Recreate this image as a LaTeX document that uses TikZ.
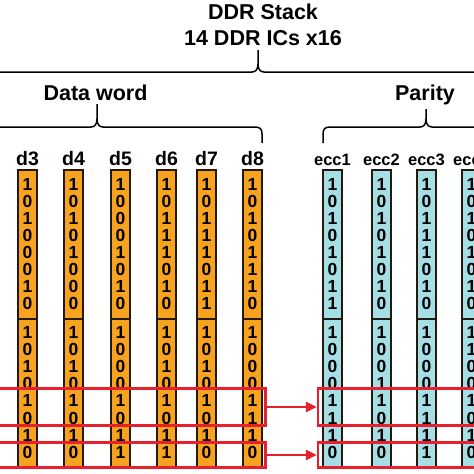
\documentclass[tikz,border=0pt]{standalone}
\usepackage{fontspec}
\setmainfont{Liberation Sans}
\usetikzlibrary{arrows.meta}
\definecolor{dataorange}{RGB}{248,163,31}
\definecolor{eccblue}{RGB}{165,222,228}
\definecolor{hlred}{RGB}{232,32,45}
\definecolor{boxedge}{RGB}{35,25,15}
\tikzset{
  heading/.style={font=\fontsize{21.5}{25}\selectfont\bfseries, anchor=base, inner sep=0pt},
  datalabel/.style={font=\fontsize{19.5}{22}\selectfont\bfseries, anchor=base, inner sep=0pt},
  ecclabel/.style={font=\fontsize{16.5}{20}\selectfont\bfseries, anchor=base, inner sep=0pt},
  bitbox/.style={draw=boxedge, line width=1.4pt, minimum width=19pt, inner sep=0pt},
  bittext/.style={font=\fontsize{17.5}{18}\selectfont\bfseries, inner sep=0pt},
  brace/.style={draw=black, line width=1.5pt},
  hlbox/.style={draw=hlred, line width=2.2pt, inner sep=0pt},
  hlarrow/.style={draw=hlred, line width=2.2pt, -{Triangle[length=11pt,width=10pt]}}
}
\begin{document}
\begin{tikzpicture}[x=1pt,y=-1pt]
\useasboundingbox (0,0) rectangle (474,474);
\clip (0,0) rectangle (474,474);
% headings
\node[heading] (stack) at (263,19.5) {DDR Stack};
\node[heading] (ics) at (263,45) {14 DDR ICs x16};
\node[heading] (dataword) at (95.5,100) {Data word};
\node[heading] (parity) at (425,100) {Parity};
% braces
\draw[brace] (-5,72) -- (252,72) .. controls (256,72) and (258,69) .. (258,64) -- (258,50);
\draw[brace] (258,64) .. controls (258,69) and (260,72) .. (264,72) -- (480,72);
\draw[brace] (-5,127) -- (91,127) .. controls (95,127) and (97,124) .. (97,119) -- (97,104);
\draw[brace] (97,119) .. controls (97,124) and (99,127) .. (103,127) -- (255,127)
  .. controls (260,127) and (262,129) .. (262,134) -- (262,143);
\draw[brace] (323,143) -- (323,134) .. controls (323,129) and (325,127) .. (330,127) -- (420,127)
  .. controls (424,127) and (426,124) .. (426,119) -- (426,109);
\draw[brace] (426,119) .. controls (426,124) and (428,127) .. (432,127) -- (480,127);
% data columns
\foreach \nm/\x/\tb/\bb in {
  d3/18/{1,0,1,0,0,0,1,0}/{1,0,1,0,1,0,1,0},
  d4/64/{1,0,1,0,1,0,0,0}/{1,0,1,0,1,0,1,0},
  d5/111/{1,0,0,0,1,0,1,0}/{1,0,0,0,1,0,1,1},
  d6/157/{1,0,1,1,1,0,1,0}/{1,0,1,0,1,0,1,1},
  d7/197/{1,0,1,1,1,0,1,1}/{1,0,1,0,1,0,1,0},
  d8/243/{1,0,1,0,1,1,1,0}/{1,0,0,0,1,1,1,0}}{
  \node[datalabel] (\nm-lab) at (\x+9.5,165) {\nm};
  \node[bitbox, fill=dataorange, minimum height=149pt] (\nm-top) at (\x+9.5,244.5) {};
  \node[bitbox, fill=dataorange, minimum height=148pt] (\nm-bot) at (\x+9.5,393) {};
  \foreach \b [count=\i] in \tb {
    \node[bittext] (\nm-t\i) at (\x+9.5,184+17.1*\i-17.1) {\b};
  }
  \foreach \b [count=\i] in \bb {
    \node[bittext] (\nm-b\i) at (\x+9.5,332.5+17.1*\i-17.1) {\b};
  }
}
% ecc columns
\foreach \nm/\x/\tb/\bb in {
  ecc1/323/{1,0,1,0,1,0,1,1}/{1,0,0,0,1,1,1,0},
  ecc2/372/{1,0,1,0,1,0,1,0}/{1,0,0,1,1,0,1,0},
  ecc3/417/{1,0,1,1,1,0,1,0}/{1,0,0,0,1,1,1,1},
  ecc4/462/{1,0,1,0,1,0,1,0}/{1,1,0,0,1,0,1,0}}{
  \node[ecclabel] (\nm-lab) at (\x+9.5,165) {\nm};
  \node[bitbox, fill=eccblue, minimum height=149pt] (\nm-top) at (\x+9.5,244.5) {};
  \node[bitbox, fill=eccblue, minimum height=148pt] (\nm-bot) at (\x+9.5,393) {};
  \foreach \b [count=\i] in \tb {
    \node[bittext] (\nm-t\i) at (\x+9.5,184+17.1*\i-17.1) {\b};
  }
  \foreach \b [count=\i] in \bb {
    \node[bittext] (\nm-b\i) at (\x+9.5,332.5+17.1*\i-17.1) {\b};
  }
}
% highlight boxes
\node[hlbox, minimum width=275.5pt, minimum height=37pt] (hlL1) at (127.75,407) {};
\node[hlbox, minimum width=172pt, minimum height=37pt] (hlR1) at (404,407) {};
\node[hlbox, minimum width=275.5pt, minimum height=25pt] (hlL2) at (127.75,455) {};
\node[hlbox, minimum width=172pt, minimum height=25pt] (hlR2) at (404,455) {};
\draw[hlarrow] (hlL1.east) -- (hlR1.west);
\draw[hlarrow] (hlL2.east) -- (hlR2.west);
\end{tikzpicture}
\end{document}
